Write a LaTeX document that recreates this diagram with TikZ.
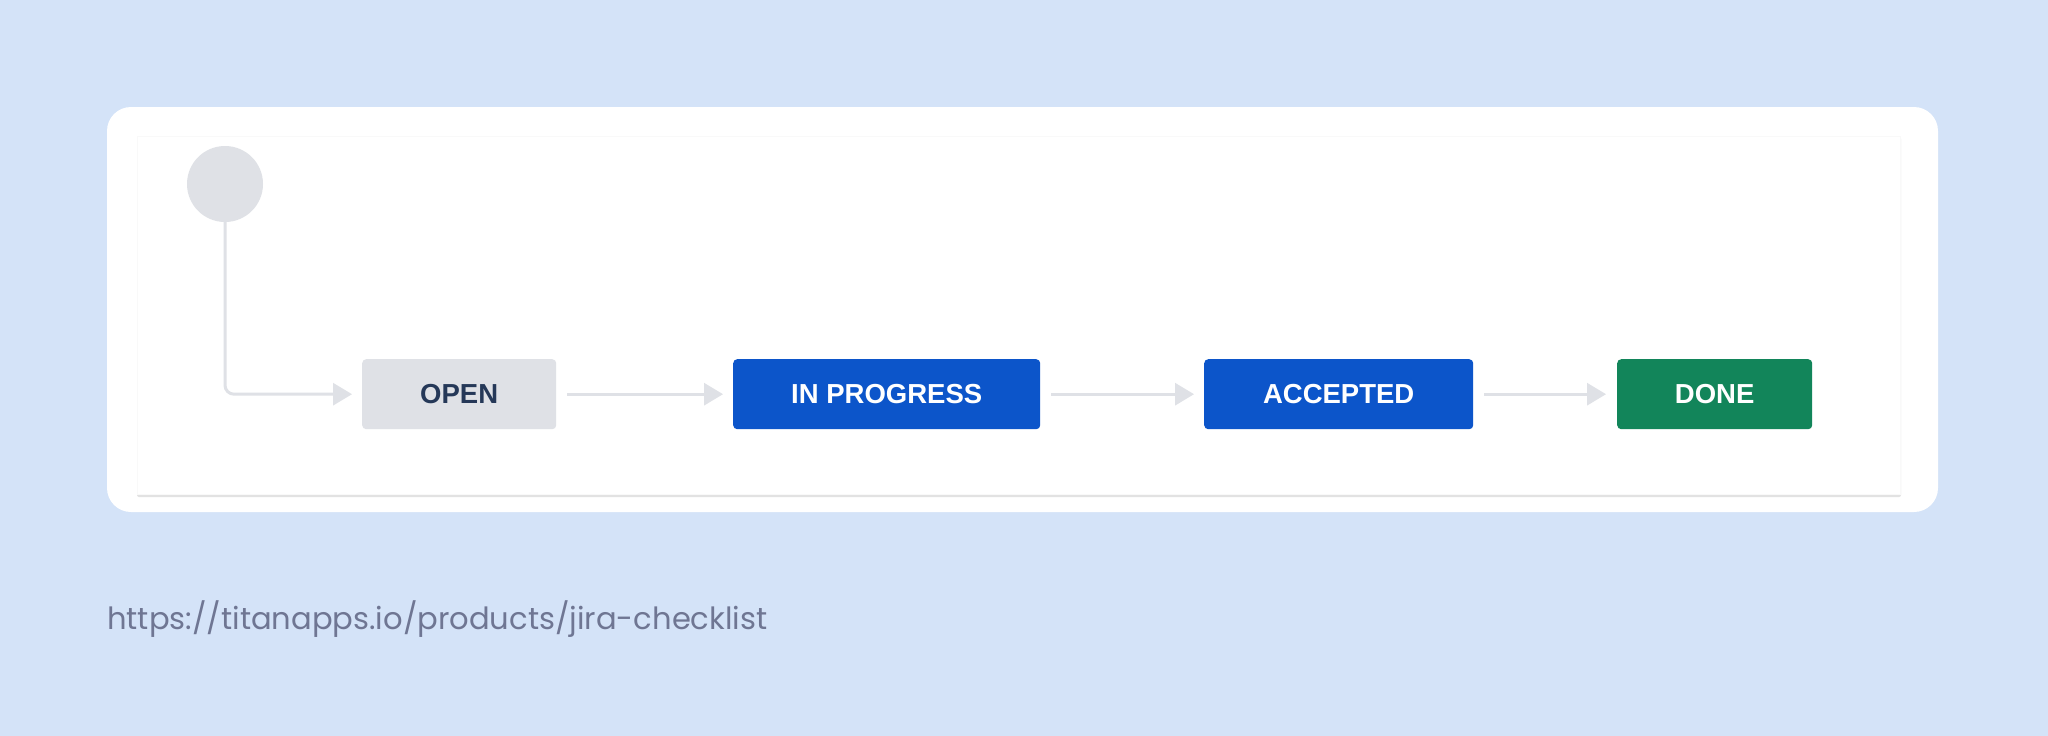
\documentclass[tikz,border=0pt]{standalone}
\usepackage{fontspec}
\setmainfont{Liberation Sans}
\newfontfamily\urlfont{Poppins}
\usetikzlibrary{arrows.meta}
\definecolor{bgblue}{HTML}{D4E3F8}
\definecolor{lightgray}{HTML}{DFE1E6}
\definecolor{navy}{HTML}{253858}
\definecolor{jblue}{HTML}{0C55CA}
\definecolor{jgreen}{HTML}{12855A}
\definecolor{urlgray}{HTML}{6F7693}
\definecolor{shadowgray}{HTML}{E2E2E2}
\tikzset{
  status/.style={rectangle, rounded corners=4pt, minimum height=70pt, inner sep=0pt,
    font=\fontsize{27.5}{30}\selectfont\bfseries, anchor=north west},
  conn/.style={draw=lightgray, line width=3pt, -{Triangle[length=19pt,width=22pt]}},
}
\begin{document}
\begin{tikzpicture}[x=1pt,y=-1pt]
\useasboundingbox (0,0) rectangle (2048,736);
\fill[bgblue] (0,0) rectangle (2048,736);
% outer card
\fill[white, rounded corners=24pt] (107,107) rectangle (1938,512);
% inner panel with faint shadow
\fill[shadowgray, rounded corners=2pt] (137,137) rectangle (1901,497);
\fill[white] (137,136) rectangle (1900,494);
\draw[draw=gray!5, line width=0.8pt] (137,136) rectangle (1900,494);
% start circle
\node[circle, fill=lightgray, minimum size=76pt, inner sep=0pt] (start) at (225,184) {};
% statuses
\node[status, fill=lightgray, text=navy, minimum width=194pt] (open) at (362,359) {OPEN};
\node[status, fill=jblue, text=white, minimum width=307pt] (prog) at (733,359) {IN PROGRESS};
\node[status, fill=jblue, text=white, minimum width=269pt] (acc) at (1204,359) {ACCEPTED};
\node[status, fill=jgreen, text=white, minimum width=195pt] (done) at (1617,359) {DONE};
% connectors
\draw[conn, rounded corners=9pt] (start.south) |- ([xshift=-10pt]open.west);
\draw[conn] ([xshift=11pt]open.east) -- ([xshift=-10pt]prog.west);
\draw[conn] ([xshift=11pt]prog.east) -- ([xshift=-10pt]acc.west);
\draw[conn] ([xshift=11pt]acc.east) -- ([xshift=-11pt]done.west);
% url
\node[anchor=base west, inner sep=0pt, text=urlgray, font=\urlfont\fontsize{30.6}{34}\selectfont] (url) at (107,629) {https://titanapps.io/products/jira-checklist};
\end{tikzpicture}
\end{document}
